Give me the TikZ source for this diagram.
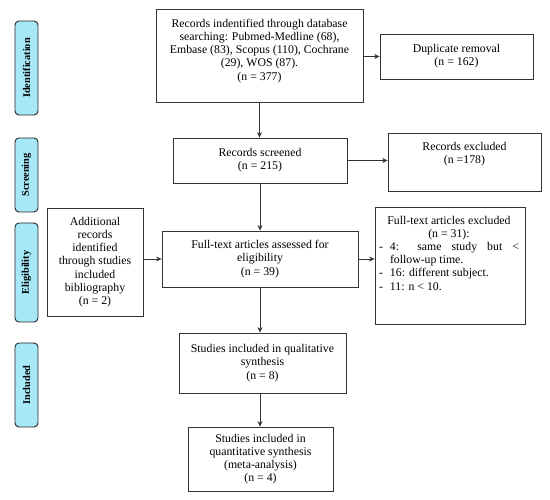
\documentclass[tikz,border=0pt]{standalone}
\usepackage{fontspec}
\setmainfont{Liberation Serif}
\usetikzlibrary{arrows.meta}
\definecolor{stagefill}{RGB}{166,232,248}
\newcommand{\fs}{\fontsize{11.8}{13.2}\selectfont}
\begin{document}
\begin{tikzpicture}[x=1pt,y=-1pt,
  box/.style={draw=black!80, line width=0.8pt, inner sep=0pt, align=center, font=\fs, fill=white},
  stage/.style={draw=black!85, line width=0.9pt, fill=stagefill, rounded corners=4pt, rotate=90,
    minimum height=23pt, inner sep=0pt, font=\fontsize{10.3}{11}\selectfont\bfseries},
  arr/.style={draw=black!80, line width=0.8pt, -{Stealth[length=5.5pt,width=5pt]}}]
\useasboundingbox (0,0) rectangle (550,500);

% stage labels
\node[stage, minimum width=94pt] (sid) at (26.5,68) {Identification};
\node[stage, minimum width=74pt] (ssc) at (26.5,175) {Screening};
\node[stage, minimum width=99pt] (sel) at (26.5,272.5) {Eligibility};
\node[stage, minimum width=84pt] (sin) at (26.5,385) {Included};

% boxes
\node[box] (top) at (259.5,55.5)
  {\parbox[c][93pt][t]{207pt}{\centering\vspace*{10pt}Records indentified through database\\searching: Pubmed-Medline (68),\\Embase (83), Scopus (110), Cochrane\\(29), WOS (87).\\(n = 377)}};
\node[box, minimum width=153pt, minimum height=45pt] (dup) at (456.5,56.5)
  {Duplicate removal\\(n = 162)};
\node[box, minimum width=174pt, minimum height=45pt] (scr) at (260,160.5)
  {Records screened\\(n = 215)};
\node[box] (exc) at (464.5,162)
  {\parbox[c][58pt][t]{153pt}{\centering\vspace*{9pt}Records excluded\\(n =178)}};
\node[box, minimum width=96pt, minimum height=108pt] (add) at (95,262)
  {Additional\\records\\identified\\through studies\\included\\bibliography\\(n = 2)};
\node[box, minimum width=196pt, minimum height=56pt] (ft) at (260,259)
  {Full-text articles assessed for\\eligibility\\(n = 39)};
\node[box] (ftex) at (450,265.5)
  {\parbox[c][117pt][t]{150pt}{\vspace*{9pt}\hspace*{4pt}\parbox[t]{140pt}{%
    {\centering Full-text articles excluded\\(n = 31):\par}
    \noindent\makebox[11pt][l]{-}\makebox[129pt][s]{4: same study but <}\\
    \hspace*{11pt}follow-up time.\\
    \makebox[11pt][l]{-}16: different subject.\\
    \makebox[11pt][l]{-}11: n < 10.}}};
\node[box, minimum width=167pt, minimum height=60pt] (qual) at (262.5,363)
  {Studies included in qualitative\\synthesis\\(n = 8)};
\node[box, minimum width=145pt, minimum height=64pt] (quan) at (260.5,459)
  {Studies included in\\quantitative synthesis\\(meta-analysis)\\(n = 4)};

% connectors
\draw[arr] (top.south) -- (top.south |- scr.north);
\draw[arr] (scr.south) -- (scr.south |- ft.north);
\draw[arr] (ft.south) -- (ft.south |- qual.north);
\draw[arr] (ft.south |- qual.south) -- (ft.south |- quan.north);
\draw[arr] (dup.west -| top.east) -- (dup.west);
\draw[arr] (scr.east) -- (scr.east -| exc.west);
\draw[arr] (ft.west -| add.east) -- (ft.west);
\draw[arr] (ft.east) -- (ft.east -| ftex.west);
\end{tikzpicture}
\end{document}
